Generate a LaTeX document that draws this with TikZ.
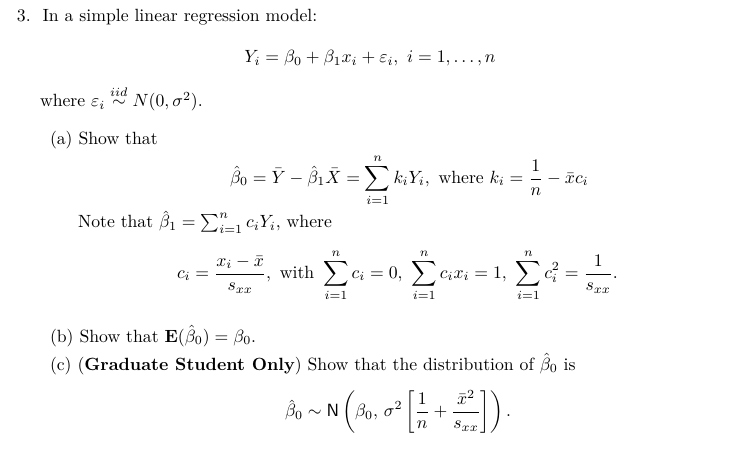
\documentclass[tikz,border=0pt]{standalone}
\usepackage{amsmath,amssymb}
\begin{document}
\begin{tikzpicture}[x=0.565pt,y=-0.565pt,every node/.style={inner sep=0pt,outer sep=0pt}]
\useasboundingbox (0,0) rectangle (732,460);
\node[anchor=west] (t1) at (17,17) {3.\ \ In a simple linear regression model:};
\node (e1) at (370,58) {$Y_i=\beta_0+\beta_1x_i+\varepsilon_i,\ i=1,\ldots,n$};
\node[anchor=west] (t2) at (40,99) {where $\varepsilon_i\overset{iid}{\sim}N(0,\sigma^2)$.};
\node[anchor=west] (ta) at (50,140) {(a) Show that};
\node[anchor=west] (e2) at (230,180) {$\displaystyle\hat\beta_0=\bar Y-\hat\beta_1\bar X=\sum_{i=1}^n k_iY_i,\ \text{where } k_i=\frac{1}{n}-\bar x c_i$};
\node[anchor=west] (t3) at (78,222) {Note that $\hat\beta_1=\sum_{i=1}^n c_iY_i$, where};
\node[anchor=west] (e3) at (177,275) {$\displaystyle c_i=\frac{x_i-\bar x}{s_{xx}},\ \text{with}\ \sum_{i=1}^n c_i=0,\ \sum_{i=1}^n c_ix_i=1,\ \sum_{i=1}^n c_i^2=\frac{1}{s_{xx}}.$};
\node[anchor=west] (tb) at (50,336) {(b) Show that $\mathbf{E}(\hat\beta_0)=\beta_0$.};
\node[anchor=west] (tc) at (50,364) {(c) (\textbf{Graduate Student Only}) Show that the distribution of $\hat\beta_0$ is};
\node[anchor=west] (e4) at (285,412) {$\displaystyle\hat\beta_0\sim\mathsf{N}\left(\beta_0,\,\sigma^2\left[\frac{1}{n}+\frac{\bar x^2}{s_{xx}}\right]\right).$};
\end{tikzpicture}
\end{document}
